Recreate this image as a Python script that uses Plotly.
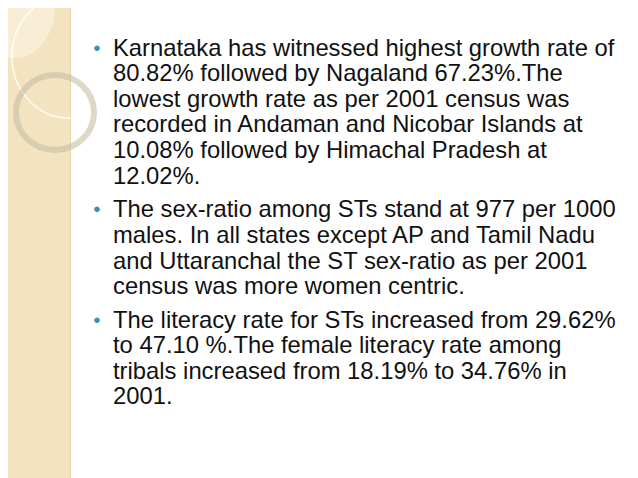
import plotly.graph_objects as go

W, H = 638, 478
bullets = [
    ["Karnataka has witnessed highest growth rate of",
     "80.82% followed by Nagaland 67.23%.The",
     "lowest growth rate as per 2001 census was",
     "recorded in Andaman and Nicobar Islands at",
     "10.08% followed by Himachal Pradesh at",
     "12.02%."],
    ["The sex-ratio among STs stand at 977 per 1000",
     "males. In all states except AP and Tamil Nadu",
     "and Uttaranchal the ST sex-ratio as per 2001",
     "census was more women centric."],
    ["The literacy rate for STs increased from 29.62%",
     "to 47.10 %.The female literacy rate among",
     "tribals increased from 18.19% to 34.76% in",
     "2001."],
]
starts = [47, 209, 319]
spacing = 25.6
OFF = 8  # page offset compensation

def px(x): return (x - OFF) / W
def py(y): return 1 - (y - OFF) / H

fig = go.Figure()
shapes = [
    dict(type="rect", xref="paper", yref="paper", x0=px(-5), x1=px(70), y0=py(490), y1=py(-5),
         fillcolor="#f3e3c1", line=dict(width=0), layer="below"),
    dict(type="line", xref="paper", yref="paper", x0=px(70.5), x1=px(70.5), y0=py(490), y1=py(-5),
         line=dict(color="#e6d5b0", width=1)),
    dict(type="circle", xref="paper", yref="paper", x0=px(-25), x1=px(55), y0=py(-45), y1=py(58),
         fillcolor="rgba(255,250,240,0.45)", line=dict(width=0)),
    dict(type="circle", xref="paper", yref="paper", x0=px(12), x1=px(125), y0=py(-5), y1=py(118),
         line=dict(color="rgba(255,255,250,0.9)", width=1.5)),
    dict(type="circle", xref="paper", yref="paper", x0=px(16), x1=px(94), y0=py(75), y1=py(150),
         line=dict(color="rgba(200,190,165,0.6)", width=6)),
]
ann = []
for lines, y0 in zip(bullets, starts):
    ann.append(dict(xref="paper", yref="paper", x=px(97), y=py(y0), text="●",
                    showarrow=False, xanchor="center", yanchor="middle",
                    font=dict(family="Liberation Sans", size=13, color="#3b91ab")))
    for i, t in enumerate(lines):
        ann.append(dict(xref="paper", yref="paper", x=px(111), y=py(y0 + i * spacing), text=t,
                        showarrow=False, xanchor="left", yanchor="middle",
                        font=dict(family="Liberation Sans", size=23.8, color="#111111")))
fig.update_layout(width=W, height=H, margin=dict(l=0, r=0, t=0, b=0),
                  paper_bgcolor="white", plot_bgcolor="white",
                  xaxis=dict(visible=False), yaxis=dict(visible=False),
                  shapes=shapes, annotations=ann, showlegend=False)
fig.write_html("out.html")
